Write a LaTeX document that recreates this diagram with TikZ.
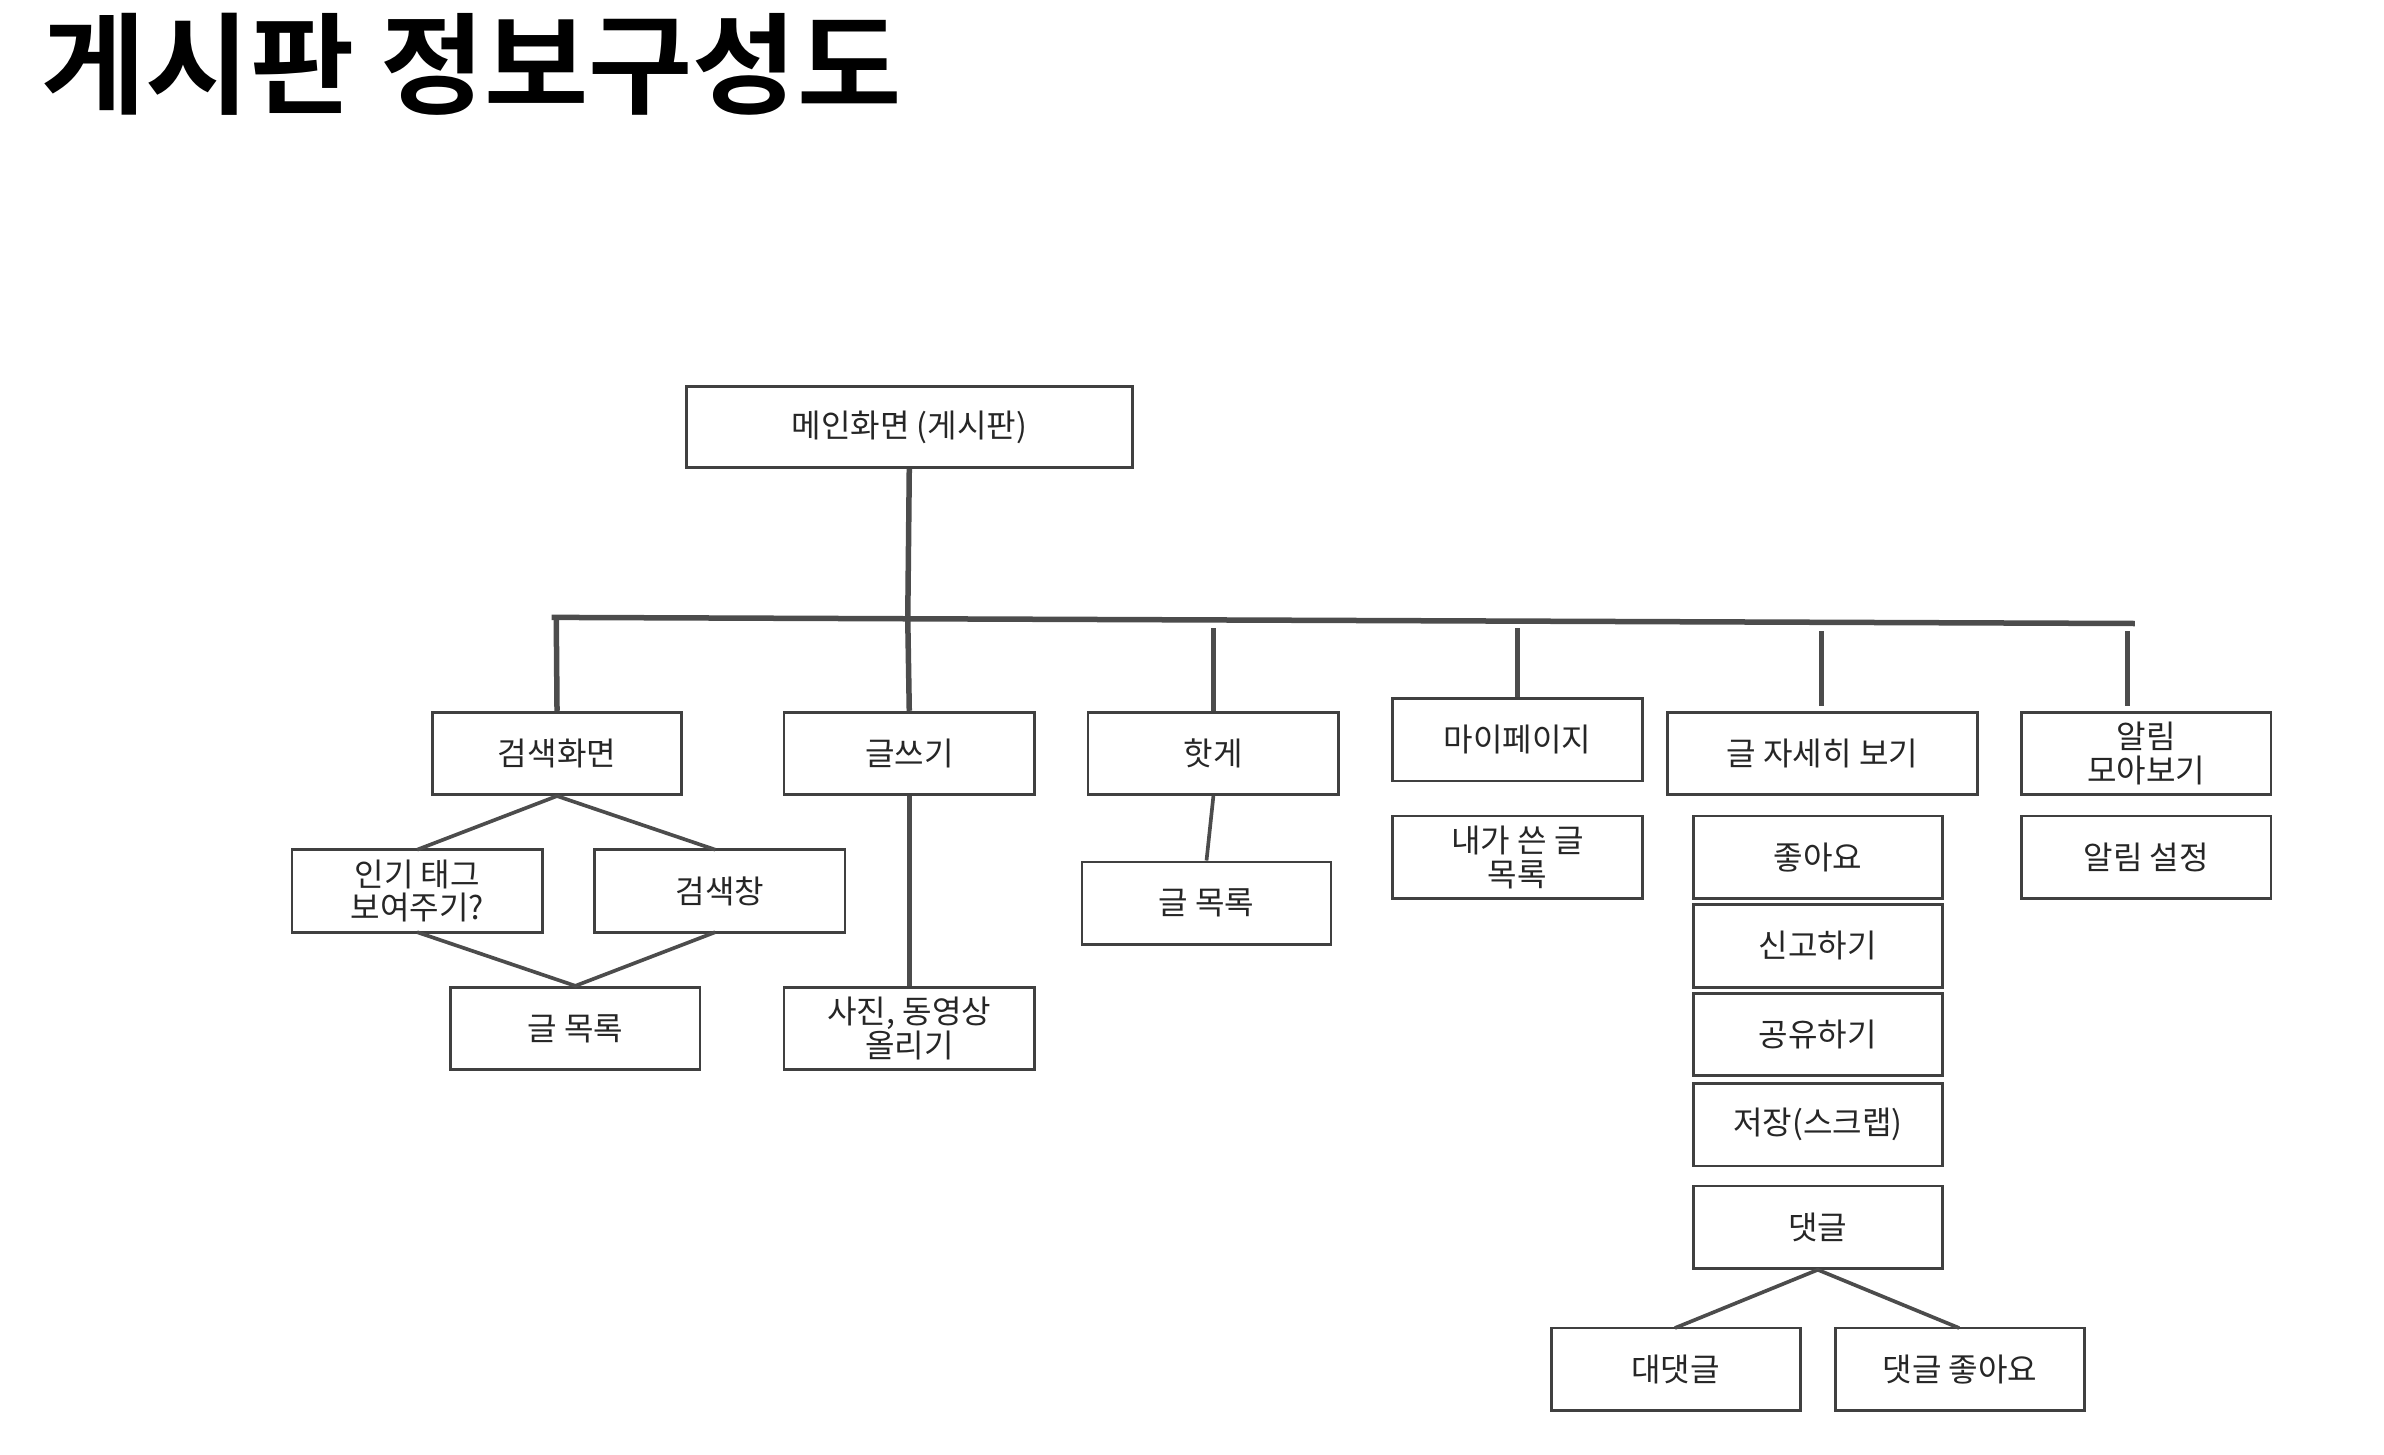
\documentclass[tikz,border=0pt]{standalone}
\usepackage{fontspec}
\setmainfont{Noto Sans CJK KR}
\newfontfamily\titlefont{Noto Sans CJK KR Bold}
\newcommand\mybox[6]{%
  \pgfmathsetmacro\bw{(#4-#2)*0.5}\pgfmathsetmacro\bh{(#5-#3)*0.5}%
  \node[box,minimum width=\bw pt,minimum height=\bh pt] (#1) at ({(#2+#4)/2},{(#3+#5)/2}) {#6};}
\begin{document}
\begin{tikzpicture}[x=0.5pt,y=-0.5pt,
  box/.style={draw=black!75,line width=0.9pt,inner sep=0pt,align=center,font=\fontsize{10.5}{11}\selectfont,text=black!85},
  ln/.style={draw=black!70,line width=1.2pt},
  thick ln/.style={draw=black!70,line width=1.8pt}]
\useasboundingbox (0,0) rectangle (1560,952);
\node[anchor=west,font=\titlefont\fontsize{36}{38}\selectfont,xscale=1.03] (title) at (20,42) {게시판 정보구성도};
\mybox{main}{449}{253}{741}{306}{메인화면 (게시판)}
\mybox{search}{283}{466}{446}{520}{검색화면}
\mybox{tag}{191}{556}{355}{610}{인기 태그\\보여주기?}
\mybox{sbar}{389}{556}{553}{610}{검색창}
\mybox{list1}{295}{646}{458}{700}{글 목록}
\mybox{write}{513}{466}{677}{520}{글쓰기}
\mybox{photo}{513}{646}{677}{700}{사진, 동영상\\올리기}
\mybox{hot}{712}{466}{876}{520}{핫게}
\mybox{list2}{708}{564}{871}{618}{글 목록}
\mybox{my}{911}{457}{1075}{511}{마이페이지}
\mybox{mine}{911}{534}{1075}{588}{내가 쓴 글\\목록}
\mybox{detail}{1091}{466}{1294}{520}{글 자세히 보기}
\mybox{like}{1108}{534}{1271}{588}{좋아요}
\mybox{report}{1108}{592}{1271}{646}{신고하기}
\mybox{share}{1108}{650}{1271}{704}{공유하기}
\mybox{save}{1108}{709}{1271}{763}{저장(스크랩)}
\mybox{cmt}{1108}{776}{1271}{830}{댓글}
\mybox{reply}{1015}{869}{1178}{923}{대댓글}
\mybox{cmtlike}{1201}{869}{1364}{923}{댓글 좋아요}
\mybox{noti}{1323}{466}{1486}{520}{알림\\모아보기}
\mybox{notiset}{1323}{534}{1486}{588}{알림 설정}
\coordinate (hl) at (361,404); \coordinate (hr) at (1397,408);
\draw[thick ln] (hl) -- (hr);
\draw[thick ln] (main.south) -- (594,405) -- (write.north);
\draw[thick ln] (write.south) -- (photo.north);
\draw[thick ln] (364,405) -- (search.north);
\draw[thick ln] (794,411) -- (hot.north);
\draw[thick ln] (993,411) -- (my.north);
\draw[thick ln] (1192,413) -- (1192,462);
\draw[thick ln] (1392,413) -- (1392,462);
\draw[ln] (search.south) -- (273,556);
\draw[ln] (search.south) -- (468,556);
\draw[ln] (273,610) -- (list1.north) -- (468,610);
\draw[ln] (hot.south) -- (list2.north);
\draw[ln] (1096,869) -- (cmt.south) -- (1282,869);
\end{tikzpicture}
\end{document}
